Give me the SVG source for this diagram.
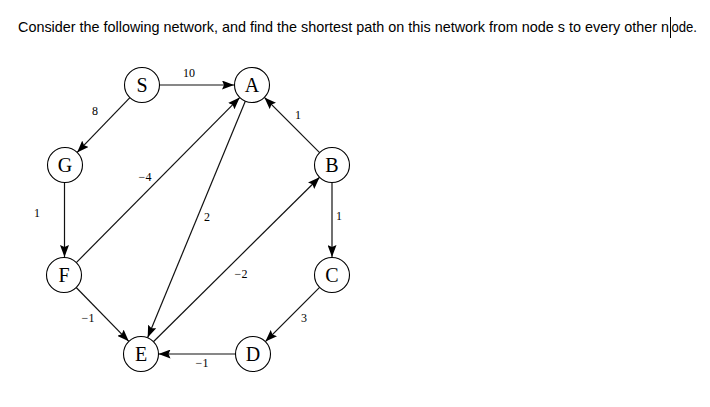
<svg xmlns="http://www.w3.org/2000/svg" width="710" height="407" viewBox="0 0 710 407">
<style>
.title{font-family:"Liberation Sans","Open Sans",sans-serif;font-size:14.5px;fill:#000}
.node circle{fill:#fff;stroke:#000;stroke-width:1.1}
.node text{font-family:"Liberation Serif","DejaVu Serif",serif;font-size:20px;text-anchor:middle;fill:#000}
.edge{stroke:#111;stroke-width:1.2;fill:none;marker-end:url(#ah)}
.lbl{font-family:"Liberation Serif","DejaVu Serif",serif;font-size:12px;text-anchor:middle;fill:#000}
</style>
<defs>
<marker id="ah" markerUnits="userSpaceOnUse" markerWidth="13" markerHeight="9" refX="12" refY="4.5" orient="auto">
<path d="M0,0 L12,4.5 L0,9 L2,4.5 z" fill="#000"/>
</marker>
</defs>
<rect width="710" height="407" fill="#fff"/>
<text class="title" x="18" y="32" textLength="651" lengthAdjust="spacingAndGlyphs">Consider the following network, and find the shortest path on this network from node s to every other n</text>
<text class="title" x="671.5" y="32" textLength="25.5" lengthAdjust="spacingAndGlyphs">ode.</text>
<line x1="670.5" y1="17" x2="670.5" y2="38" stroke="#000" stroke-width="1"/>
<g id="connectors">
<line class="edge" x1="159.5" y1="85" x2="234" y2="85"/>
<line class="edge" x1="129.9" y1="97.6" x2="77.1" y2="152.4"/>
<line class="edge" x1="64.5" y1="182.5" x2="64.5" y2="257"/>
<line class="edge" x1="76.3" y1="262.6" x2="239.7" y2="97.6"/>
<line class="edge" x1="245.3" y1="101.2" x2="147.7" y2="337.5"/>
<line class="edge" x1="319.6" y1="152.6" x2="264.4" y2="97.4"/>
<line class="edge" x1="332" y1="182.5" x2="332" y2="257"/>
<line class="edge" x1="153.4" y1="341.7" x2="319.6" y2="177.3"/>
<line class="edge" x1="319.6" y1="287.4" x2="265.4" y2="341.6"/>
<line class="edge" x1="235.5" y1="354" x2="158.5" y2="354"/>
<line class="edge" x1="76.2" y1="287.5" x2="128.8" y2="341.3"/>
<text class="lbl" x="189" y="77">10</text>
<text class="lbl" x="95" y="115">8</text>
<text class="lbl" x="37" y="217">1</text>
<text class="lbl" x="145" y="181">−4</text>
<text class="lbl" x="207" y="221">2</text>
<text class="lbl" x="298" y="119">1</text>
<text class="lbl" x="339" y="220">1</text>
<text class="lbl" x="241" y="278">−2</text>
<text class="lbl" x="304" y="322">3</text>
<text class="lbl" x="202" y="367">−1</text>
<text class="lbl" x="88" y="322">−1</text>
</g>
<g id="S" class="node"><circle cx="142" cy="85" r="17.5"/><text x="142" y="92">S</text></g>
<g id="A" class="node"><circle cx="252" cy="85" r="17.5"/><text x="252" y="92">A</text></g>
<g id="G" class="node"><circle cx="65" cy="165" r="17.5"/><text x="65" y="172">G</text></g>
<g id="B" class="node"><circle cx="332" cy="165" r="17.5"/><text x="332" y="172">B</text></g>
<g id="F" class="node"><circle cx="64" cy="275" r="17.5"/><text x="64" y="282">F</text></g>
<g id="C" class="node"><circle cx="332" cy="275" r="17.5"/><text x="332" y="282">C</text></g>
<g id="E" class="node"><circle cx="141" cy="354" r="17.5"/><text x="141" y="361">E</text></g>
<g id="D" class="node"><circle cx="253" cy="354" r="17.5"/><text x="253" y="361">D</text></g>
</svg>
